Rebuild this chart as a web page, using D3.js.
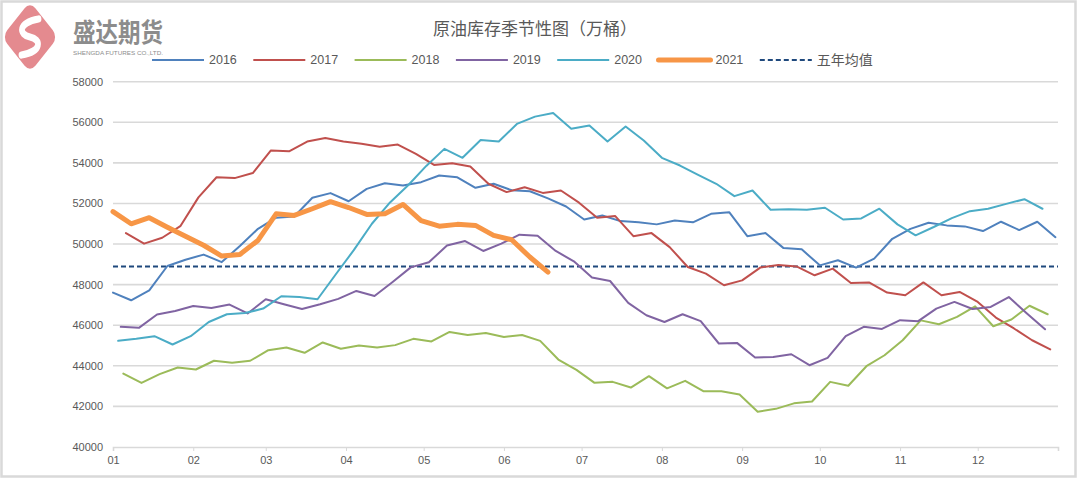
<!DOCTYPE html>
<html>
<head>
<meta charset="utf-8">
<script src="https://cdn.jsdelivr.net/npm/d3@7"></script>
<style>
  body { margin: 0; background: #fff; }
  svg { display: block; font-family: "Liberation Sans", Arial, sans-serif; }
</style>
</head>
<body>
<svg class="crude-stock" width="1080" height="479"></svg>
<script>
// weekly crude stocks, 10k barrels
var years = ["2016", "2017", "2018", "2019", "2020", "2021"];
var firstWeeks = ["2016-01-01", "2017-01-06", "2018-01-05", "2019-01-04", "2020-01-03", "2021-01-01"];
var colors = ["#4f81bd", "#c0504d", "#9bbb59", "#8064a2", "#4bacc6", "#f79646"];

var stock2016 = [47610, 47230, 47720, 48920, 49230, 49480, 49110, 49900, 50750, 51300,
  51360, 52280, 52510, 52110, 52720, 53000, 52890, 53050, 53380, 53290,
  52770, 52970, 52650, 52600, 52250, 51850, 51210, 51410, 51130, 51080,
  50970, 51160, 51070, 51490, 51570, 50390, 50540, 49800, 49740, 48950,
  49200, 48840, 49280, 50260, 50750, 51050, 50920, 50870, 50640, 51100,
  50690, 51100, 50340];
var stock2017 = [50540, 50020, 50310, 50880, 52300, 53290, 53250, 53500, 54610, 54570,
  55050, 55230, 55050, 54940, 54800, 54900, 54440, 53900, 53980, 53820,
  52970, 52560, 52800, 52520, 52640, 52040, 51300, 51380, 50390, 50540,
  49850, 48870, 48540, 47970, 48210, 48840, 48970, 48900, 48460, 48790,
  48080, 48110, 47610, 47480, 48110, 47480, 47640, 47150, 46380, 45840,
  45260, 44810];
var stock2018 = [43620, 43160, 43590, 43920, 43820, 44250, 44150, 44250, 44770, 44900,
  44640, 45150, 44840, 45000, 44900, 45020, 45330, 45200, 45670, 45520,
  45620, 45420, 45520, 45230, 44310, 43800, 43160, 43210, 42930, 43490,
  42890, 43260, 42750, 42750, 42590, 41740, 41880, 42150, 42240, 43210,
  43020, 43980, 44520, 45260, 46240, 46050, 46410, 46930, 45950, 46280,
  46960, 46540];
var stock2019 = [45920, 45870, 46530, 46700, 46950, 46850, 47020, 46580, 47280, 47030,
  46800, 47030, 47300, 47690, 47440, 48130, 48850, 49100, 49930, 50150,
  49660, 50020, 50460, 50410, 49660, 49150, 48350, 48180, 47100, 46490,
  46160, 46540, 46200, 45100, 45130, 44410, 44440, 44570, 44030, 44390,
  45460, 45920, 45820, 46250, 46200, 46820, 47150, 46800, 46900, 47390,
  46580, 45800];
var stock2020 = [45230, 45330, 45460, 45050, 45460, 46160, 46540, 46600, 46820, 47430,
  47390, 47280, 48500, 49700, 51000, 52050, 52900, 53850, 54690, 54250,
  55130, 55050, 55920, 56280, 56460, 55680, 55840, 55050, 55790, 55100,
  54250, 53870, 53410, 52970, 52360, 52640, 51690, 51720, 51690, 51790,
  51210, 51260, 51740, 50970, 50430, 50840, 51280, 51620, 51740, 51980,
  52210, 51740];
var stock2021 = [51600, 51000, 51300, 50830, 50380, 49940, 49410, 49490, 50180, 51490,
  51410, 51740, 52090, 51800, 51460, 51490, 51950, 51160, 50880, 50970,
  50920, 50430, 50210, 49360, 48620];

var avgLabel = "五年均值";
var avgValue = 48900;
var monthLabels = ["01", "02", "03", "04", "05", "06", "07", "08", "09", "10", "11", "12"];
var yTicks = [40000, 42000, 44000, 46000, 48000, 50000, 52000, 54000, 56000, 58000];

var stocks = [stock2016, stock2017, stock2018, stock2019, stock2020, stock2021];

var margin = {top: 81.7, bottom: 32, left: 113, right: 22},
    width = 1080 - margin.left - margin.right,
    height = 479 - margin.top - margin.bottom;

var svg = d3.select(".crude-stock");

// frame
svg.append("rect")
    .attr("x", 1.5).attr("y", 1.5)
    .attr("width", 1074).attr("height", 475)
    .attr("fill", "none")
    .attr("stroke", "#d9d9d9")
    .attr("stroke-width", 2.5);

// logo
var logo = svg.append("g")
    .attr("transform", "translate(30,37) scale(0.95,1.2)");
logo.append("rect")
    .attr("x", -21).attr("y", -21)
    .attr("width", 42).attr("height", 42)
    .attr("rx", 8)
    .attr("transform", "rotate(45)")
    .attr("fill", "#e48a8f");
logo.append("path")
    .attr("d", "M 9,-15 C -13,-12 -12,-2 0,0 C 12,2 13,12 -9,15")
    .attr("fill", "none")
    .attr("stroke", "#fff")
    .attr("stroke-width", 6)
    .attr("stroke-linecap", "round");

svg.append("text")
    .attr("x", 73).attr("y", 42)
    .attr("textLength", 90)
    .attr("lengthAdjust", "spacingAndGlyphs")
    .style("font-family", "'Noto Sans CJK SC'")
    .style("font-size", "26px")
    .style("font-weight", "bold")
    .style("fill", "#8c8c8c")
    .text("盛达期货");

svg.append("text")
    .attr("x", 73).attr("y", 55)
    .attr("textLength", 90)
    .attr("lengthAdjust", "spacingAndGlyphs")
    .style("font-size", "6px")
    .style("fill", "#8c8c8c")
    .text("SHENGDA FUTURES CO.,LTD.");

svg.append("text")
    .attr("x", 535).attr("y", 35)
    .style("text-anchor", "middle")
    .style("font-family", "'Noto Sans CJK SC'")
    .style("font-size", "17px")
    .style("fill", "#595959")
    .text("原油库存季节性图（万桶）");

var chart = svg.append("g")
    .attr("transform", "translate(" + margin.left + "," + margin.top + ")");

var parseDate = d3.timeParse("%Y-%m-%d");
var refStart = new Date(2021, 0, 1);

// put every week on the same calendar year
function toRefDay(d) {
  var doy = d3.timeDay.count(d3.timeYear(d), d);
  return d3.timeDay.offset(refStart, doy);
}

var series = years.map(function(y, k) {
  var start = parseDate(firstWeeks[k]);
  return {
    name: y,
    color: colors[k],
    values: stocks[k].map(function(v, i) {
      return {date: toRefDay(d3.timeDay.offset(start, 7 * i)), value: v};
    })
  };
});

var x = d3.scaleTime()
    .domain([refStart, new Date(2022, 0, 1)])
    .range([0, width]);
var y = d3.scaleLinear()
    .domain([d3.min(yTicks), d3.max(yTicks)])
    .range([height, 0]);

// grid
chart.append("g")
  .selectAll("line")
  .data(yTicks.slice(1))
  .enter().append("line")
    .attr("x1", 0).attr("x2", width)
    .attr("y1", function(d) { return y(d); })
    .attr("y2", function(d) { return y(d); })
    .attr("stroke", "#d9d9d9")
    .attr("stroke-width", 1.6);

var yAxis = chart.append("g")
    .call(d3.axisLeft(y)
      .tickValues(yTicks)
      .tickSize(0)
      .tickPadding(10)
      .tickFormat(d3.format("d")));
yAxis.select(".domain").remove();
yAxis.selectAll("text")
    .style("font-size", "11px")
    .style("fill", "#595959");

var monthTicks = d3.timeMonth.range(refStart, new Date(2022, 0, 2));
var xAxis = chart.append("g")
    .attr("transform", "translate(0," + height + ")")
    .call(d3.axisBottom(x)
      .tickValues(monthTicks)
      .tickSize(4)
      .tickPadding(5)
      .tickFormat(function(d, i) { return monthLabels[i] || ""; }));
xAxis.select(".domain")
    .attr("stroke", "#d9d9d9")
    .attr("stroke-width", 1.6);
xAxis.selectAll(".tick line").attr("stroke", "#d9d9d9");
xAxis.selectAll("text")
    .style("font-size", "11px")
    .style("fill", "#595959");

var line = d3.line()
    .x(function(d) { return x(d.date); })
    .y(function(d) { return y(d.value); });

// five-year average
chart.append("line")
    .attr("x1", 0).attr("x2", width)
    .attr("y1", y(avgValue)).attr("y2", y(avgValue))
    .attr("stroke", "#1f497d")
    .attr("stroke-width", 2)
    .attr("stroke-dasharray", "5,3");

chart.selectAll(".year-line")
    .data(series)
  .enter().append("path")
    .attr("class", "year-line")
    .attr("d", function(d) { return line(d.values); })
    .attr("fill", "none")
    .attr("stroke", function(d) { return d.color; })
    .attr("stroke-width", function(d) { return d.name === "2021" ? 5 : 2; })
    .attr("stroke-linejoin", "round")
    .attr("stroke-linecap", "round");

// legend
var legendItems = series.map(function(d) { return {name: d.name, color: d.color, dash: null}; })
    .concat([{name: avgLabel, color: "#1f497d", dash: "5,3"}]);

var legend = svg.append("g")
  .selectAll("g")
  .data(legendItems)
  .enter().append("g")
    .attr("transform", function(d, i) { return "translate(" + (152 + i * 101.3) + ",60)"; });

legend.append("line")
    .attr("x1", 0).attr("x2", 52)
    .attr("stroke", function(d) { return d.color; })
    .attr("stroke-width", function(d) { return d.name === "2021" ? 5 : 2; })
    .attr("stroke-linecap", function(d) { return d.name === "2021" ? "round" : "butt"; })
    .attr("stroke-dasharray", function(d) { return d.dash; });

legend.append("text")
    .attr("x", 57)
    .attr("dy", "0.35em")
    .style("font-family", function(d) { return d.dash ? "'Noto Sans CJK SC'" : null; })
    .style("font-size", function(d) { return d.dash ? "14px" : "12.5px"; })
    .style("fill", "#595959")
    .text(function(d) { return d.name; });
</script>
</body>
</html>
